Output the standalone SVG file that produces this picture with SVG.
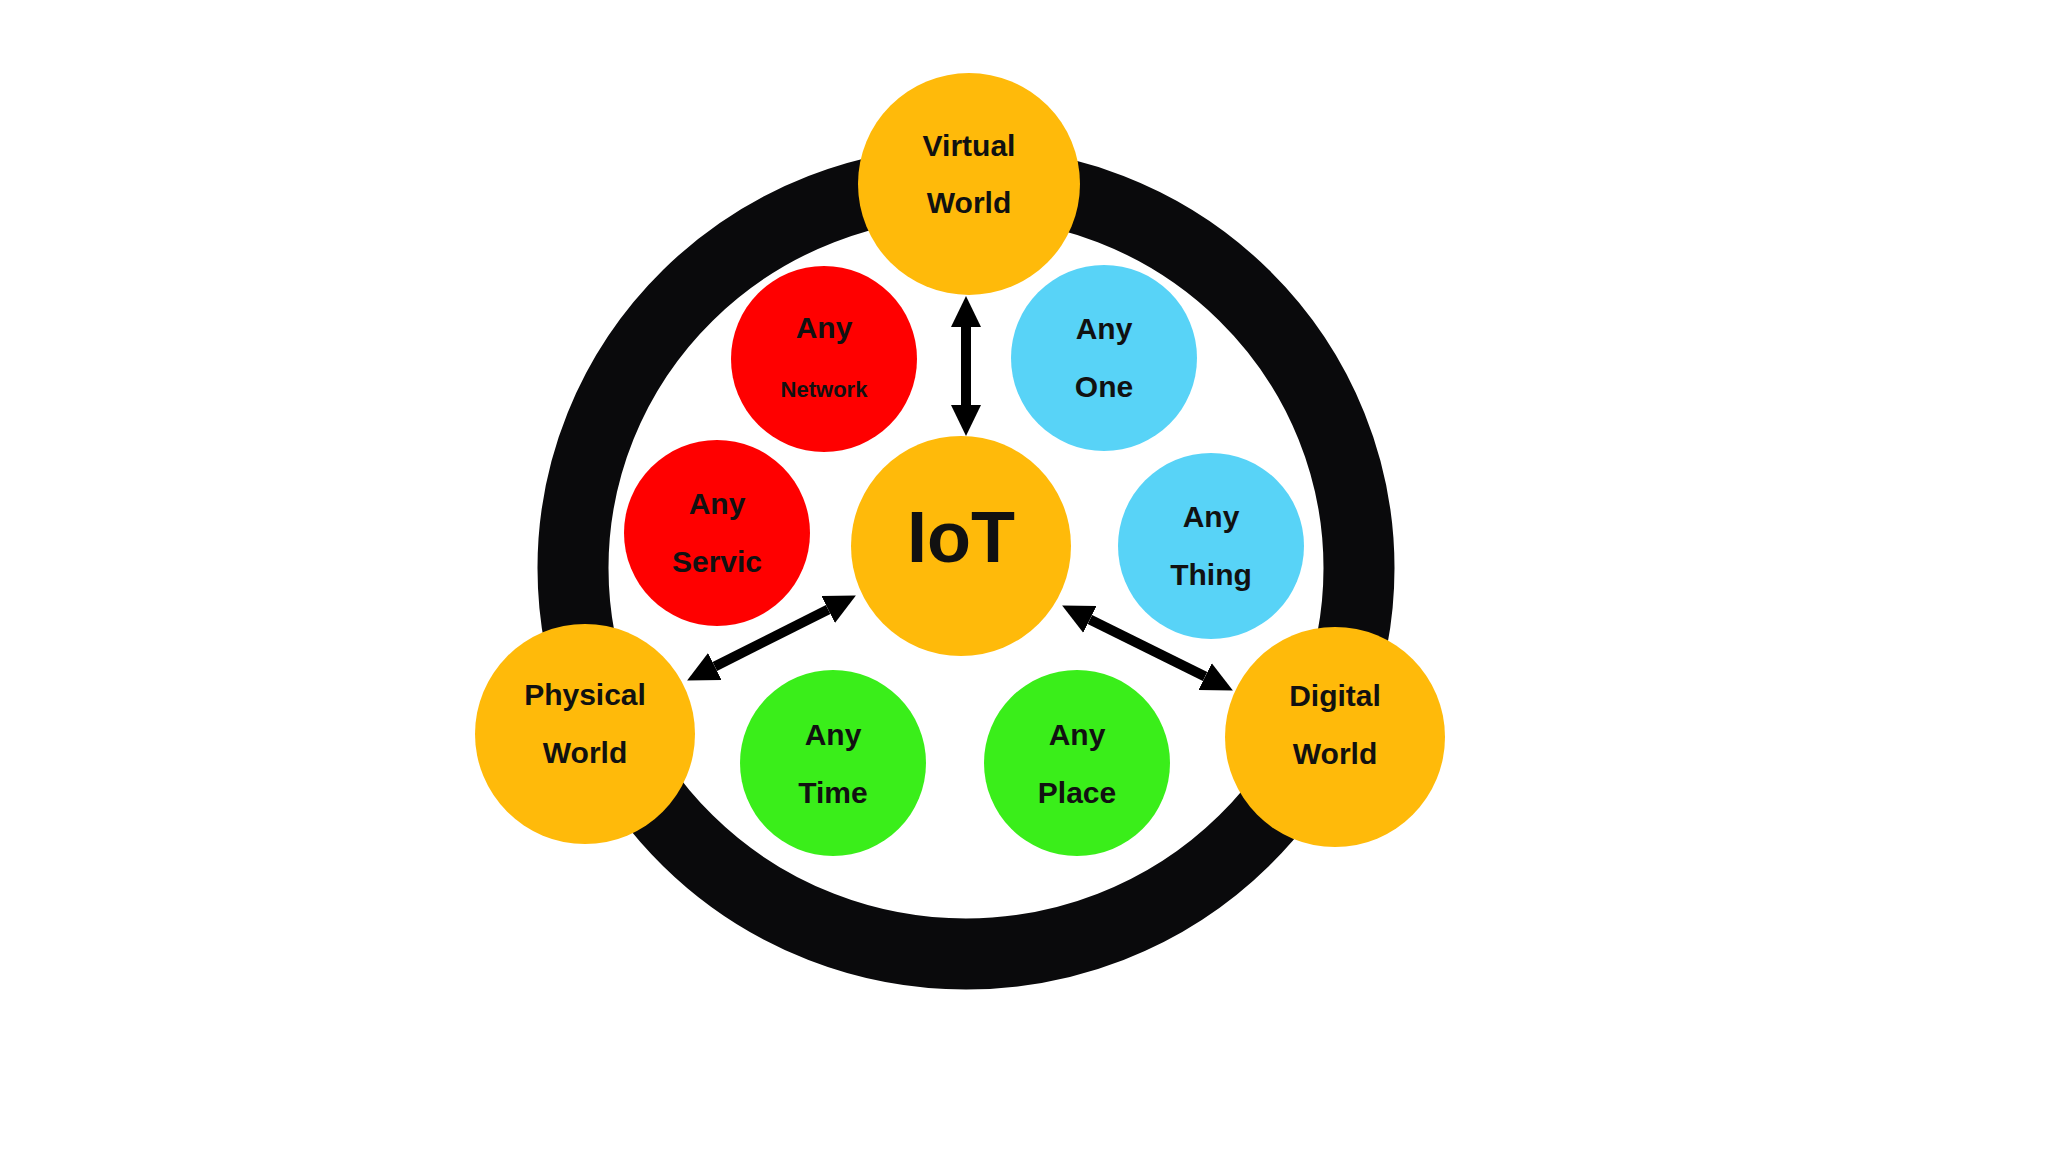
<svg xmlns="http://www.w3.org/2000/svg" width="2048" height="1152" viewBox="0 0 2048 1152">
<style>
.t{font-family:"Liberation Sans",Arial,sans-serif;font-weight:bold;font-size:30px;fill:#111;text-anchor:middle}
.gold{fill:#FFBA0A}
.red{fill:#FF0000}
.blue{fill:#58D3F7}
.green{fill:#3AEE1A}
.arr{stroke:#000;stroke-width:10;fill:none}
</style>
<defs>
<marker id="ah" markerUnits="userSpaceOnUse" markerWidth="32" markerHeight="32" refX="0" refY="15" orient="auto-start-reverse" viewBox="0 0 32 30">
<path d="M0,0 L31,15 L0,30 Z" fill="#000"/>
</marker>
</defs>
<rect width="2048" height="1152" fill="#fff"/>
<g id="ring">
<ellipse cx="966" cy="568" rx="393" ry="386" fill="none" stroke="#0a0a0c" stroke-width="71"/>
</g>
<g id="connectors">
<line class="arr" x1="966" y1="327" x2="966" y2="405" marker-start="url(#ah)" marker-end="url(#ah)"/>
<line class="arr" x1="714.8" y1="666.5" x2="828.2" y2="609.5" marker-start="url(#ah)" marker-end="url(#ah)"/>
<line class="arr" x1="1089.9" y1="619.4" x2="1205.1" y2="676.6" marker-start="url(#ah)" marker-end="url(#ah)"/>
</g>
<g id="virtual-world">
<circle class="gold" cx="969" cy="184" r="111"/>
<text class="t" x="969" y="156">Virtual</text>
<text class="t" x="969" y="213">World</text>
</g>
<g id="iot">
<circle class="gold" cx="961" cy="546" r="110"/>
<text class="t" x="961" y="562" style="font-size:72px">IoT</text>
</g>
<g id="physical-world">
<circle class="gold" cx="585" cy="734" r="110"/>
<text class="t" x="585" y="705">Physical</text>
<text class="t" x="585" y="763">World</text>
</g>
<g id="digital-world">
<circle class="gold" cx="1335" cy="737" r="110"/>
<text class="t" x="1335" y="706">Digital</text>
<text class="t" x="1335" y="764">World</text>
</g>
<g id="any-network">
<circle class="red" cx="824" cy="359" r="93"/>
<text class="t" x="824" y="338">Any</text>
<text class="t" x="824" y="397" style="font-size:22px">Network</text>
</g>
<g id="any-one">
<circle class="blue" cx="1104" cy="358" r="93"/>
<text class="t" x="1104" y="339">Any</text>
<text class="t" x="1104" y="397">One</text>
</g>
<g id="any-servic">
<circle class="red" cx="717" cy="533" r="93"/>
<text class="t" x="717" y="514">Any</text>
<text class="t" x="717" y="572">Servic</text>
</g>
<g id="any-thing">
<circle class="blue" cx="1211" cy="546" r="93"/>
<text class="t" x="1211" y="527">Any</text>
<text class="t" x="1211" y="585">Thing</text>
</g>
<g id="any-time">
<circle class="green" cx="833" cy="763" r="93"/>
<text class="t" x="833" y="745">Any</text>
<text class="t" x="833" y="803">Time</text>
</g>
<g id="any-place">
<circle class="green" cx="1077" cy="763" r="93"/>
<text class="t" x="1077" y="745">Any</text>
<text class="t" x="1077" y="803">Place</text>
</g>
</svg>
